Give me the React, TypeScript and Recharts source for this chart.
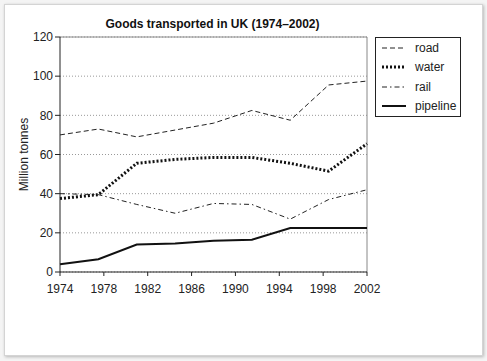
import React from 'react'
import { LineChart, Line, XAxis, YAxis, CartesianGrid, ReferenceLine } from 'recharts'

// survey years (points are 3.5 years apart)
const years = [1974, 1977.5, 1981, 1984.5, 1988, 1991.5, 1995, 1998.5, 2002]
const road = [70, 73, 69, 72.5, 76, 82.5, 77.5, 95.5, 97.5]
const water = [37.5, 39.5, 55.5, 57.5, 58.5, 58.5, 55.5, 51.5, 65.5]
const rail = [40, 39.5, 34.5, 30, 35, 34.5, 27, 37, 42]
const pipeline = [4, 6.5, 14, 14.5, 16, 16.5, 22.5, 22.5, 22.5]

const xTicks = [1974, 1978, 1982, 1986, 1990, 1994, 1998, 2002]
const yTicks = [0, 20, 40, 60, 80, 100, 120]

const data = years.map((year, i) => ({
  year,
  road: road[i],
  water: water[i],
  rail: rail[i],
  pipeline: pipeline[i],
}))

const FONT = '"Liberation Sans", Arial, sans-serif'

// line styles, reused by the legend
const styles = [
  { key: 'road', label: 'road', stroke: '#222', width: 1, dash: '5 3' },
  { key: 'water', label: 'water', stroke: '#111', width: 3, dash: '2 2' },
  { key: 'rail', label: 'rail', stroke: '#222', width: 1, dash: '5 3 1.5 3' },
  { key: 'pipeline', label: 'pipeline', stroke: '#111', width: 2, dash: undefined },
]

function LegendBox() {
  return (
    <div
      style={{
        position: 'absolute',
        left: 375,
        top: 37,
        width: 86,
        height: 80,
        border: '1px solid #222',
        boxSizing: 'border-box',
        background: 'white',
        fontFamily: FONT,
        fontSize: 12,
        color: '#222',
      }}
    >
      {styles.map((s, i) => (
        <div
          key={s.key}
          style={{ position: 'absolute', left: 6, top: 2 + i * 19.3, height: 16, display: 'flex', alignItems: 'center' }}
        >
          <svg width={25} height={16}>
            <line x1={0} x2={24} y1={8} y2={8} stroke={s.stroke} strokeWidth={s.width} strokeDasharray={s.dash} />
          </svg>
          <span style={{ marginLeft: 8 }}>{s.label}</span>
        </div>
      ))}
    </div>
  )
}

export default function App() {
  return (
    <div style={{ position: 'fixed', left: 0, top: 0, width: 487, height: 361, background: '#f4f4f4' }}>
      <div
        style={{
          position: 'absolute',
          left: 4,
          top: 4,
          width: 477,
          height: 350,
          background: 'white',
          border: '1px solid #d4d4d4',
          boxShadow: '1px 1px 3px rgba(0,0,0,0.25)',
        }}
      />
      <div
        style={{
          position: 'absolute',
          left: 0,
          width: 425,
          top: 17,
          textAlign: 'center',
          fontFamily: FONT,
          fontWeight: 'bold',
          fontSize: 12,
          color: '#111',
        }}
      >
        Goods transported in UK (1974–2002)
      </div>
      <div style={{ position: 'absolute', left: 0, top: 0 }}>
        <LineChart width={487} height={361} data={data} margin={{ top: 37, right: 120, bottom: 59, left: 20 }}>
          <CartesianGrid vertical={false} stroke="#999" strokeDasharray="1 2" />
          <ReferenceLine y={120} stroke="#888" />
          <ReferenceLine x={2002} stroke="#888" />
          <XAxis
            dataKey="year"
            type="number"
            domain={[1974, 2002]}
            ticks={xTicks}
            interval={0}
            height={30}
            tick={{ fontSize: 12, fill: '#222', fontFamily: FONT }}
            tickSize={4}
            tickMargin={8}
            axisLine={{ stroke: '#222' }}
            tickLine={{ stroke: '#222' }}
          />
          <YAxis
            type="number"
            domain={[0, 120]}
            ticks={yTicks}
            interval={0}
            width={40}
            tick={{ fontSize: 12, fill: '#222', fontFamily: FONT }}
            tickSize={5}
            axisLine={{ stroke: '#222' }}
            tickLine={{ stroke: '#222' }}
            label={{
              value: 'Million tonnes',
              angle: -90,
              position: 'insideLeft',
              offset: 4,
              style: { fontSize: 12, fill: '#222', fontFamily: FONT, textAnchor: 'middle' },
            }}
          />
          {styles.map((s) => (
            <Line
              key={s.key}
              type="linear"
              dataKey={s.key}
              stroke={s.stroke}
              strokeWidth={s.width}
              strokeDasharray={s.dash}
              dot={false}
              activeDot={false}
              isAnimationActive={false}
            />
          ))}
        </LineChart>
      </div>
      <LegendBox />
    </div>
  )
}
